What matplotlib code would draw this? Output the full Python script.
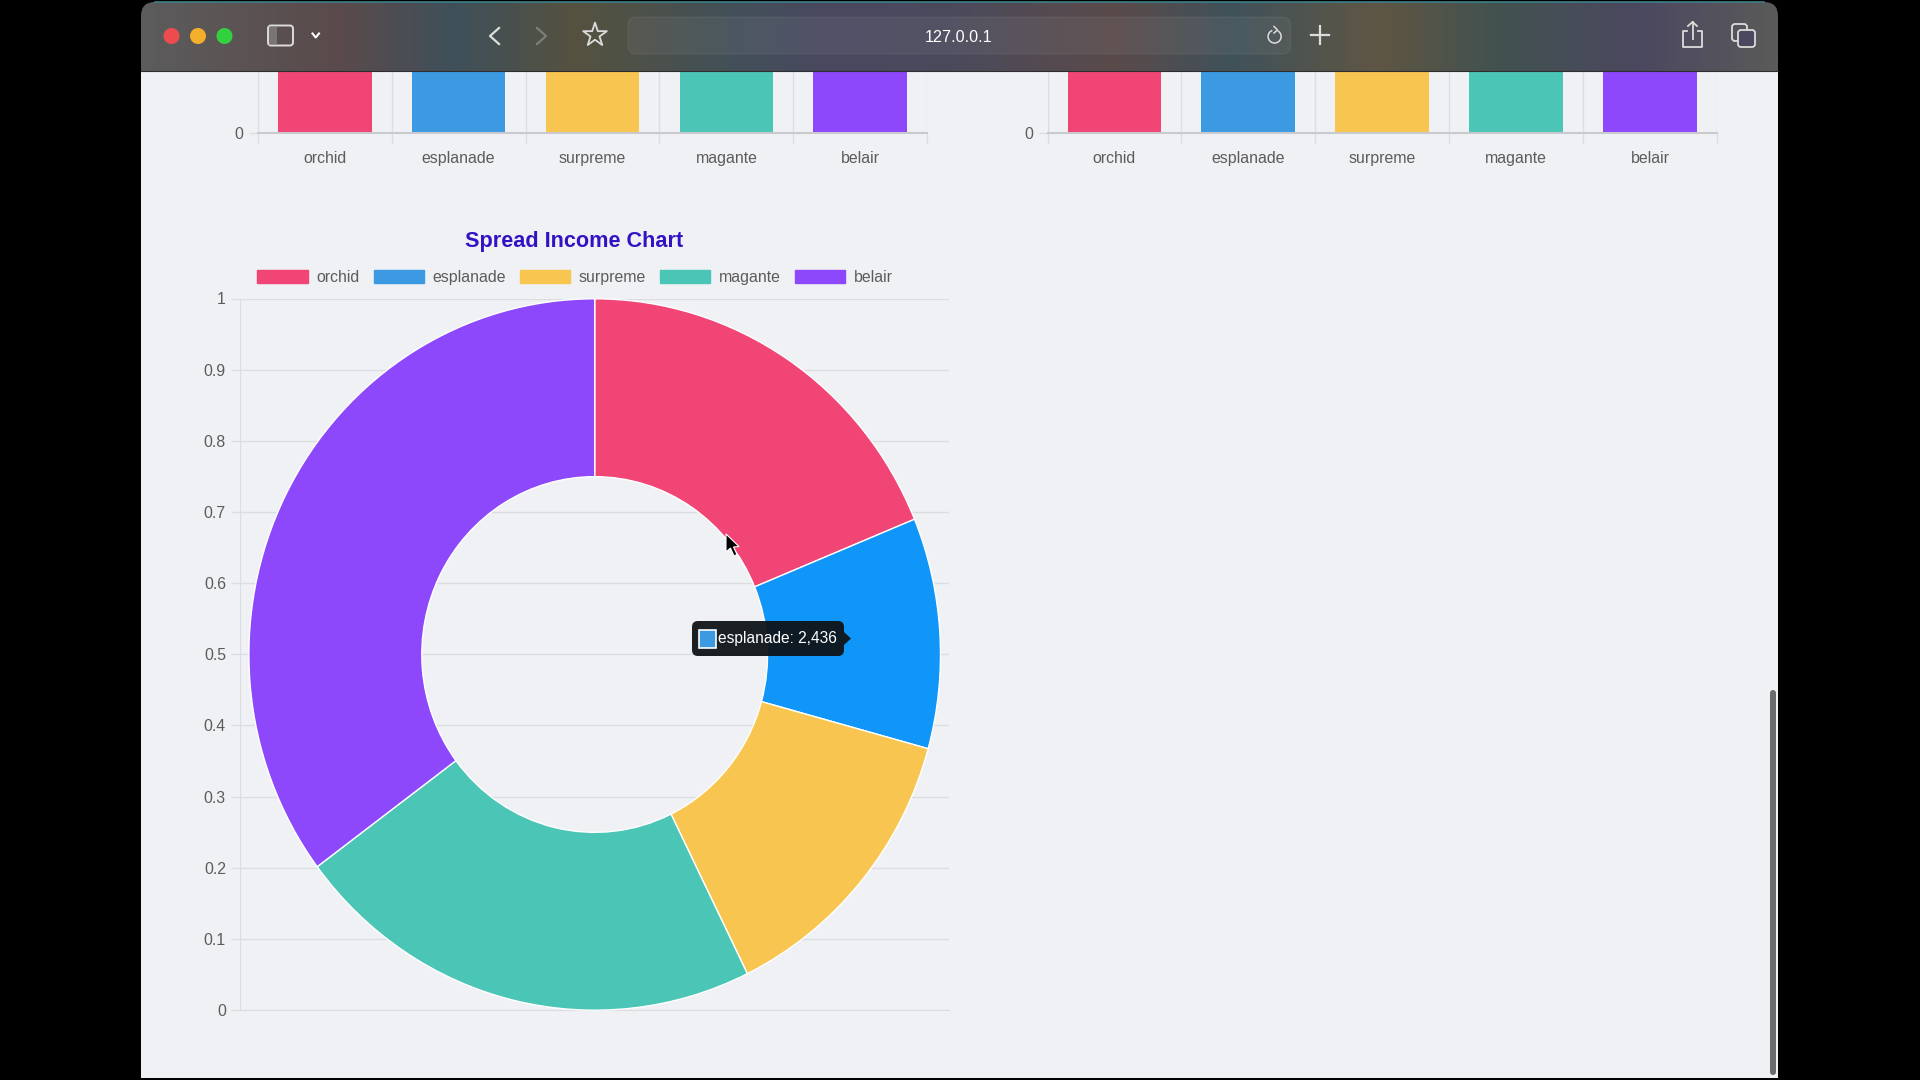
import numpy as np
import matplotlib
matplotlib.use('Agg')
import matplotlib.pyplot as plt
from matplotlib.colors import LinearSegmentedColormap
from matplotlib.patches import Circle, FancyBboxPatch, Patch, Polygon, Rectangle, Arc

plt.rcParams['font.family'] = ['Liberation Sans', 'DejaVu Sans']

# data
categories = ['orchid', 'esplanade', 'surpreme', 'magante', 'belair']
income_bars = [4370, 2436, 3130, 5140, 8180]   # left bars, cut off by the toolbar
spread_bars = [610, 340, 430, 710, 1130]       # right bars, cut off by the toolbar
spread_income = [4370, 2436, 3130, 5140, 8180]
donut_ticks = [0, 0.1, 0.2, 0.3, 0.4, 0.5, 0.6, 0.7, 0.8, 0.9, 1]
bar_colors = ['#f04575', '#3b9ae1', '#f8c650', '#4bc5b6', '#8c48fa']
donut_colors = ['#f04575', '#0f96f8', '#f8c650', '#4bc5b6', '#8c48fa']

W, H = 1920, 1080
PAGE = '#f0f1f5'
GRID = '#dcdde1'
AXIS = '#c9cacd'
TEXT = '#5c5c5c'
FS = 11.45

fig = plt.figure(figsize=(W / 100, H / 100), dpi=100, facecolor='black')


def px_axes(x0, y0, x1, y1, **kw):
    return fig.add_axes([x0 / W, 1 - y1 / H, (x1 - x0) / W, (y1 - y0) / H], **kw)


def pt(p):
    return p * 0.72


# page behind the charts
bg = px_axes(0, 0, W, H, zorder=0)
bg.set_xlim(0, W)
bg.set_ylim(H, 0)
bg.axis('off')
bg.add_patch(Rectangle((141, 40), 1637, 1038, fc=PAGE, ec='none'))


def bar_chart(x0, x1, values, top, ticks):
    ax = px_axes(x0, 50, x1, 132.8, zorder=1)
    ax.set_facecolor('none')
    ax.bar(range(5), values, width=0.7, color=bar_colors, zorder=2)
    ax.set_xlim(-0.5, 4.5)
    ax.set_ylim(0, top)
    ax.set_xticks(range(5), categories)
    ax.set_xticks(np.arange(-0.5, 5), minor=True)
    ax.set_yticks(ticks)
    ax.tick_params(axis='x', which='major', length=0, pad=pt(18), labelsize=FS, labelcolor=TEXT)
    ax.tick_params(axis='x', which='minor', length=pt(11), width=1, color=GRID)
    ax.tick_params(axis='y', length=pt(9), width=1, color=GRID, pad=pt(5), labelsize=FS, labelcolor=TEXT)
    ax.grid(True, which='minor', axis='x', color=GRID, lw=1, zorder=0)
    ax.grid(True, which='major', axis='y', color=GRID, lw=1, zorder=0)
    for s in ['top', 'right']:
        ax.spines[s].set_visible(False)
    ax.spines['left'].set_color(GRID)
    ax.spines['bottom'].set_color(AXIS)
    ax.spines['bottom'].set_linewidth(1.5)
    return ax


bar_chart(257.7, 927.3, income_bars, 2000, [0])
bar_chart(1047.5, 1717, spread_bars, 245, [0, 200])

# donut with the cartesian scale behind it
grid_ax = px_axes(240, 298.5, 949, 1010, zorder=1)
grid_ax.set_facecolor('none')
grid_ax.set_ylim(0, 1)
grid_ax.set_xlim(0, 1)
grid_ax.set_xticks([])
grid_ax.set_yticks(donut_ticks, [f'{t:g}' for t in donut_ticks])
grid_ax.tick_params(axis='y', length=pt(9), width=1, color=GRID, pad=pt(5), labelsize=FS, labelcolor=TEXT)
grid_ax.grid(True, axis='y', color=GRID, lw=1)
for s in ['top', 'right']:
    grid_ax.spines[s].set_visible(False)
grid_ax.spines['left'].set_color(GRID)
grid_ax.spines['bottom'].set_color(GRID)

cx, cy, rx, ry = 594.7, 654.5, 345.8, 355.7
pie_ax = px_axes(cx - rx, cy - ry, cx + rx, cy + ry, zorder=2)
pie_ax.pie(spread_income, colors=donut_colors, startangle=90, counterclock=False, radius=1,
           wedgeprops=dict(width=0.5, edgecolor='white', linewidth=1, clip_on=False))
pie_ax.set_xlim(-1, 1)
pie_ax.set_ylim(-1, 1)
pie_ax.set_aspect('auto')

fig.text(574.6 / W, 1 - 241.6 / H, 'Spread Income Chart', ha='center', va='center',
         fontsize=15.6, fontweight='bold', color='#3412c4', zorder=6)
handles = [Patch(facecolor=c, edgecolor=c, label=n) for c, n in zip(bar_colors, categories)]
fig.legend(handles=handles, loc='center', bbox_to_anchor=(575 / W, 1 - 277.8 / H), ncols=5, frameon=False,
           fontsize=FS, labelcolor=TEXT, handlelength=3.15, handleheight=0.9, handletextpad=0.55,
           columnspacing=0.88, borderpad=0, borderaxespad=0)

# browser chrome and tooltip on top
top = px_axes(0, 0, W, H, zorder=5)
top.set_facecolor('none')
top.axis('off')

stops = [(0, '#5c5c5c'), (0.12, '#5a4a4b'), (0.19, '#3f505a'), (0.265, '#55523f'), (0.36, '#425058'),
         (0.42, '#4a4860'), (0.495, '#4b4a5c'), (0.595, '#5a4a4a'), (0.668, '#40525a'), (0.757, '#5f5644'),
         (0.83, '#42524f'), (0.918, '#4b4860'), (1, '#5a5a5a')]
cmap = LinearSegmentedColormap.from_list('bar', stops)
bar_img = top.imshow(np.linspace(0, 1, 800).reshape(1, -1), cmap=cmap, extent=(141, 1778, 71, 2), aspect='auto', zorder=1)
shape = FancyBboxPatch((141, 2), 1637, 90, boxstyle='round,pad=0,rounding_size=14', fc='none', ec='none',
                       transform=top.transData)
top.add_patch(shape)
bar_img.set_clip_path(shape)
top.plot([155, 1764], [2, 2], color='#3f7f88', lw=1.2, zorder=2)
top.plot([141, 1778], [70.6, 70.6], color='#2e2e30', lw=0.8, zorder=2)

LIGHT = '#dcdcdc'
for x, c in [(171.5, '#ee4b4f'), (198, '#f3ae2b'), (224.5, '#33d13f')]:
    top.add_patch(Circle((x, 36), 8, fc=c, ec='none', zorder=3))

# sidebar button
top.add_patch(FancyBboxPatch((268, 25.5), 25, 20, boxstyle='round,pad=0,rounding_size=3', fc='none', ec=LIGHT, lw=1.4, zorder=3))
top.add_patch(Rectangle((268.5, 26), 8, 19, fc='#8f8f8f', ec='none', alpha=0.6, zorder=3))
top.plot([312.5, 315.7, 319], [33.5, 37.5, 33.5], color='white', lw=1.5, zorder=3)
top.plot([499, 490, 499], [28, 36, 44], color=LIGHT, lw=1.6, zorder=3)
top.plot([537, 546, 537], [28, 36, 44], color='#7d7d7d', lw=1.6, zorder=3)
top.scatter([595], [35], marker='*', s=320, facecolor='none', edgecolor=LIGHT, linewidth=1.3, zorder=3)

# address field
top.add_patch(FancyBboxPatch((628, 17), 662.5, 37, boxstyle='round,pad=0,rounding_size=8', fc='#ffffff', alpha=0.05,
                             ec='#ffffff', lw=1, zorder=3))
top.text(959, 37.5, '127.0.0.1', color='white', ha='center', va='center', fontsize=11.6, fontweight='medium', zorder=4)
top.add_patch(Arc((1274.6, 36.5), 13, 13, theta1=-60, theta2=250, ec=LIGHT, lw=1.1, zorder=3))
top.plot([1274, 1277.5, 1274], [26.5, 30, 33], color=LIGHT, lw=1.1, zorder=3)
top.plot([1320, 1320], [26, 44], color=LIGHT, lw=1.6, zorder=3)
top.plot([1311, 1329], [35, 35], color=LIGHT, lw=1.6, zorder=3)

# share and tabs buttons
top.plot([1687, 1683, 1683, 1702, 1702, 1698], [31, 31, 47, 47, 31, 31], color=LIGHT, lw=1.3, zorder=3)
top.plot([1692.5, 1692.5], [22, 39], color=LIGHT, lw=1.3, zorder=3)
top.plot([1688, 1692.5, 1697], [26, 22, 26], color=LIGHT, lw=1.3, zorder=3)
top.add_patch(FancyBboxPatch((1732, 24), 15, 17, boxstyle='round,pad=0,rounding_size=3', fc='none', ec=LIGHT, lw=1.3, zorder=3))
top.add_patch(FancyBboxPatch((1738, 30), 17, 17, boxstyle='round,pad=0,rounding_size=3', fc='#4b4860', ec=LIGHT, lw=1.3, zorder=3))

# scrollbar
top.add_patch(FancyBboxPatch((1770, 690), 6, 385, boxstyle='round,pad=0,rounding_size=3', fc='#6b6b6d', ec='none', zorder=3))

# tooltip
top.add_patch(FancyBboxPatch((692, 621), 152, 35, boxstyle='round,pad=0,rounding_size=6', fc='#0e1418', ec='none', alpha=0.95, zorder=6))
top.add_patch(Polygon([(844, 632), (851, 638.5), (844, 645)], fc='#0e1418', ec='none', alpha=0.95, zorder=6))
top.add_patch(Rectangle((698.5, 629.5), 17, 18, fc=bar_colors[1], ec='white', lw=1.2, zorder=7))
top.text(717.5, 639, f'{categories[1]}: {spread_income[1]:,}', color='white', ha='left', va='center', fontsize=11.2, zorder=7)

# mouse pointer
top.add_patch(Polygon([(726, 534), (726, 552), (730.5, 548), (734, 556), (737, 554.5), (733.5, 547), (739, 546.5)],
                      fc='black', ec='white', lw=0.8, zorder=8))

top.set_xlim(0, W)
top.set_ylim(H, 0)

fig.savefig('out.png', dpi=100, facecolor=fig.get_facecolor())
